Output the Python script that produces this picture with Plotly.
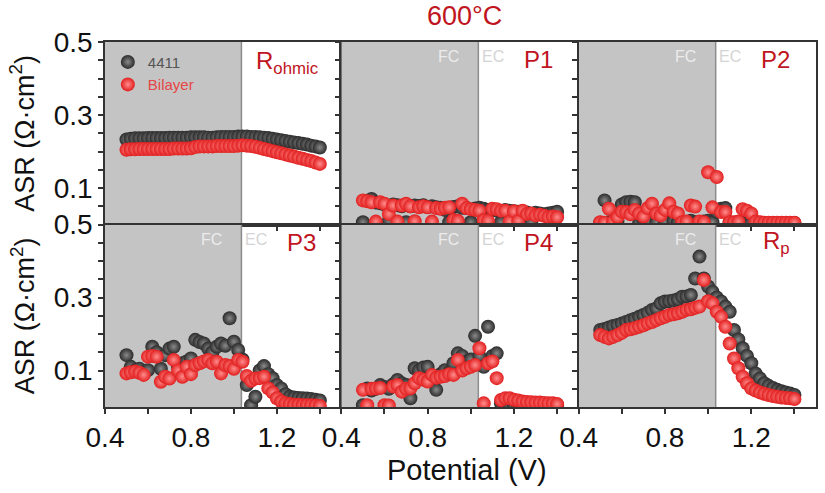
import plotly.graph_objects as go

potential = [0.50, 0.52, 0.54, 0.56, 0.58, 0.60, 0.62, 0.64, 0.66, 0.68,
             0.70, 0.72, 0.74, 0.76, 0.78, 0.80, 0.82, 0.84, 0.86, 0.88,
             0.90, 0.92, 0.94, 0.96, 0.98, 1.00, 1.02, 1.04, 1.06, 1.08,
             1.10, 1.12, 1.14, 1.16, 1.18, 1.20, 1.22, 1.24, 1.26, 1.28,
             1.30, 1.32, 1.34, 1.36, 1.38, 1.40]

r_ohmic_4411 = [0.233, 0.235, 0.236, 0.236, 0.236, 0.237, 0.237, 0.237, 0.237, 0.237,
                0.238, 0.238, 0.238, 0.238, 0.238, 0.239, 0.239, 0.239, 0.239, 0.238,
                0.238, 0.239, 0.240, 0.240, 0.240, 0.240, 0.241, 0.241, 0.241, 0.240,
                0.240, 0.239, 0.238, 0.237, 0.235, 0.233, 0.231, 0.229, 0.227, 0.225,
                0.223, 0.221, 0.219, 0.216, 0.214, 0.211]
r_ohmic_bilayer = [0.205, 0.206, 0.206, 0.207, 0.207, 0.207, 0.207, 0.207, 0.207, 0.207,
                   0.207, 0.208, 0.208, 0.208, 0.208, 0.209, 0.212, 0.214, 0.214, 0.214,
                   0.214, 0.215, 0.215, 0.215, 0.215, 0.215, 0.216, 0.217, 0.216, 0.215,
                   0.213, 0.210, 0.207, 0.204, 0.201, 0.198, 0.195, 0.192, 0.189, 0.186,
                   0.183, 0.180, 0.177, 0.174, 0.170, 0.166]

p1_4411 = [0.006, 0.065, 0.070, 0.060, 0.058, 0.055, 0.010, 0.055, 0.053, 0.050,
           0.006, 0.050, 0.052, 0.051, 0.053, 0.048, 0.050, 0.047, 0.046, 0.040,
           0.006, 0.048, 0.050, 0.046, 0.045, 0.006, 0.044, 0.046, 0.043, 0.040,
           0.040, 0.038, 0.006, 0.040, 0.038, 0.036, 0.035, 0.034, 0.033, 0.006,
           0.032, 0.030, 0.028, 0.030, 0.032, 0.035]
p1_bilayer = [0.066, 0.064, 0.061, 0.008, 0.061, 0.057, 0.029, 0.052, 0.008, 0.052,
              0.057, 0.050, 0.009, 0.047, 0.050, 0.047, 0.008, 0.045, 0.043, 0.046,
              0.047, 0.012, 0.010, 0.057, 0.045, 0.042, 0.040, 0.038, 0.012, 0.010,
              0.043, 0.042, 0.038, 0.038, 0.008, 0.036, 0.010, 0.038, 0.029, 0.030,
              0.025, 0.027, 0.024, 0.020, 0.022, 0.020]

p2_4411 = [0.005, 0.066, 0.006, 0.008, 0.010, 0.055, 0.061, 0.062, 0.061, 0.004,
           0.015, 0.010, 0.040, 0.005, 0.030, 0.008, 0.045, 0.010, 0.006, 0.004,
           0.005, 0.010, 0.006, 0.005, 0.008, 0.010, 0.006, 0.035, 0.043, 0.045,
           0.006, 0.005, 0.004, 0.004, 0.004, 0.004, 0.004, 0.004, 0.004, 0.004,
           0.004, 0.004, 0.004, 0.004, 0.004, 0.004]
p2_bilayer = [0.006, 0.005, 0.043, 0.008, 0.020, 0.035, 0.034, 0.028, 0.040, 0.030,
              0.022, 0.045, 0.057, 0.030, 0.025, 0.040, 0.058, 0.035, 0.030, 0.006,
              0.008, 0.052, 0.049, 0.008, 0.006, 0.143, 0.047, 0.130, 0.034, 0.034,
              0.006, 0.006, 0.008, 0.042, 0.038, 0.030, 0.008, 0.006, 0.005, 0.005,
              0.005, 0.005, 0.005, 0.005, 0.005, 0.005]

p3_4411 = [0.142, 0.110, 0.100, 0.105, 0.095, 0.101, 0.165, 0.150, 0.105, 0.142,
           0.160, 0.165, 0.110, 0.120, 0.125, 0.133, 0.184, 0.178, 0.174, 0.160,
           0.150, 0.165, 0.174, 0.168, 0.243, 0.179, 0.156, 0.130, 0.060, 0.005,
           0.028, 0.100, 0.112, 0.090, 0.079, 0.060, 0.051, 0.035, 0.028, 0.026,
           0.025, 0.024, 0.023, 0.022, 0.020, 0.018]
p3_bilayer = [0.092, 0.095, 0.097, 0.094, 0.088, 0.138, 0.140, 0.138, 0.069, 0.083,
              0.078, 0.129, 0.100, 0.083, 0.110, 0.090, 0.115, 0.120, 0.125, 0.129,
              0.120, 0.124, 0.092, 0.115, 0.112, 0.105, 0.129, 0.124, 0.085, 0.072,
              0.078, 0.079, 0.083, 0.051, 0.040, 0.024, 0.015, 0.010, 0.008, 0.006,
              0.006, 0.005, 0.005, 0.005, 0.004, 0.003]

p4_4411 = [0.005, 0.051, 0.045, 0.050, 0.060, 0.055, 0.050, 0.062, 0.074, 0.065,
           0.060, 0.024, 0.106, 0.100, 0.108, 0.110, 0.070, 0.047, 0.090, 0.101,
           0.095, 0.120, 0.147, 0.140, 0.125, 0.130, 0.195, 0.140, 0.110, 0.220,
           0.140, 0.147, 0.010, 0.008, 0.005, 0.005, 0.005, 0.005, 0.005, 0.005,
           0.005, 0.005, 0.005, 0.005, 0.005, 0.005]
p4_bilayer = [0.047, 0.005, 0.050, 0.051, 0.052, 0.005, 0.004, 0.056, 0.060, 0.042,
              0.050, 0.051, 0.065, 0.079, 0.075, 0.070, 0.088, 0.080, 0.083, 0.085,
              0.090, 0.088, 0.129, 0.100, 0.106, 0.110, 0.115, 0.161, 0.010, 0.120,
              0.125, 0.079, 0.019, 0.024, 0.024, 0.020, 0.018, 0.015, 0.014, 0.013,
              0.012, 0.012, 0.011, 0.010, 0.010, 0.008]

rp_4411 = [0.211, 0.214, 0.218, 0.222, 0.225, 0.229, 0.233, 0.238, 0.242, 0.247,
           0.252, 0.258, 0.266, 0.270, 0.284, 0.289, 0.290, 0.292, 0.295, 0.302,
           0.303, 0.307, 0.352, 0.412, 0.352, 0.330, 0.316, 0.300, 0.289, 0.275,
           0.261, 0.211, 0.185, 0.161, 0.140, 0.120, 0.092, 0.078, 0.065, 0.058,
           0.052, 0.047, 0.043, 0.040, 0.037, 0.033]
rp_bilayer = [0.197, 0.192, 0.188, 0.192, 0.197, 0.203, 0.211, 0.213, 0.216, 0.220,
              0.224, 0.229, 0.233, 0.238, 0.243, 0.247, 0.252, 0.254, 0.257, 0.261,
              0.266, 0.268, 0.272, 0.275, 0.348, 0.290, 0.284, 0.261, 0.247, 0.220,
              0.174, 0.133, 0.106, 0.083, 0.065, 0.051, 0.045, 0.040, 0.036, 0.033,
              0.030, 0.028, 0.026, 0.025, 0.024, 0.022]

panel_labels = ["R<sub>ohmic</sub>", "P1", "P2", "P3", "P4", "R<sub>p</sub>"]
series_4411 = [r_ohmic_4411, p1_4411, p2_4411, p3_4411, p4_4411, rp_4411]
series_bilayer = [r_ohmic_bilayer, p1_bilayer, p2_bilayer, p3_bilayer, p4_bilayer, rp_bilayer]

x_ticks = [0.4, 0.6, 0.8, 1.0, 1.2, 1.4]
x_ticktext = ["0.4", "", "0.8", "", "1.2", ""]
y_ticks = [0.05, 0.1, 0.15, 0.2, 0.25, 0.3, 0.35, 0.4, 0.45, 0.5]
y_ticktext = ["", "0.1", "", "", "", "0.3", "", "", "", "0.5"]
fc_ec_boundary = 1.035

FONT = "Liberation Sans, Arial, sans-serif"
DARK_RED = "#c0141e"
AX = "#333333"

fig = go.Figure()

x_domains = [[0.0, 237 / 713], [237 / 713, 475 / 713], [475 / 713, 1.0]]
y_domains = [[0.5, 1.0], [0.0, 0.5]]

annotations = []
shapes = []

for k in range(6):
    row, col = divmod(k, 3)
    sfx = "" if k == 0 else str(k + 1)
    xref, yref = "x" + sfx, "y" + sfx

    fig.add_trace(go.Scatter(
        x=potential, y=series_4411[k], mode="markers", xaxis=xref, yaxis=yref,
        name="<span style='color:#555555'>4411</span>", showlegend=(k == 0), legendgroup="a",
        marker=dict(size=14, color="#2b2b2b", gradient=dict(type="radial", color="#8a8a8a"),
                    line=dict(width=0)),
    ))
    fig.add_trace(go.Scatter(
        x=potential, y=series_bilayer[k], mode="markers", xaxis=xref, yaxis=yref,
        name="<span style='color:#e64646'>Bilayer</span>", showlegend=(k == 0), legendgroup="b",
        marker=dict(size=14, color="#e21e1e", gradient=dict(type="radial", color="#ff8c8c"),
                    line=dict(width=0)),
    ))

    fig.layout["xaxis" + sfx] = dict(
        domain=x_domains[col], anchor=yref, range=[0.4, 1.5],
        tickmode="array", tickvals=x_ticks, ticktext=x_ticktext,
        showticklabels=(row == 1), ticks="outside", ticklen=5, tickwidth=1.5, tickcolor=AX,
        showline=True, mirror=True, linecolor=AX, linewidth=1.5,
        showgrid=False, zeroline=False,
        tickfont=dict(family=FONT, size=28, color="#111"),
    )
    fig.layout["yaxis" + sfx] = dict(
        domain=y_domains[row], anchor=xref, range=[0, 0.5],
        tickmode="array", tickvals=y_ticks, ticktext=y_ticktext,
        showticklabels=(col == 0), ticks="outside", ticklen=5, tickwidth=1.5, tickcolor=AX,
        showline=True, mirror=True, linecolor=AX, linewidth=1.5,
        showgrid=False, zeroline=False,
        tickfont=dict(family=FONT, size=28, color="#111"),
    )

    shapes.append(dict(type="rect", xref=xref, yref=yref, x0=0.4, x1=fc_ec_boundary, y0=0, y1=0.5,
                       fillcolor="#c4c4c4", line=dict(width=0), layer="below"))
    shapes.append(dict(type="line", xref=xref, yref=yref, x0=fc_ec_boundary, x1=fc_ec_boundary,
                       y0=0, y1=0.5, line=dict(color="#8c8c8c", width=1.5), layer="below"))

    annotations.append(dict(text=panel_labels[k], xref=xref, yref=yref, x=1.40 if k == 0 else 1.39,
                            y=0.445 if k == 0 else 0.452, xanchor="right", yanchor="middle",
                            showarrow=False, font=dict(family=FONT, size=24, color=DARK_RED)))
    if k != 0:
        annotations.append(dict(text="FC", xref=xref, yref=yref, x=0.955, y=0.46,
                                xanchor="right", yanchor="middle", showarrow=False,
                                font=dict(family=FONT, size=16, color="#ececec")))
        annotations.append(dict(text="EC", xref=xref, yref=yref, x=1.042, y=0.46,
                                xanchor="left", yanchor="middle", showarrow=False,
                                font=dict(family=FONT, size=16, color="#d4d4d4")))

annotations.append(dict(text="600°C", xref="paper", yref="paper", x=0.506, y=1.072,
                        xanchor="center", yanchor="middle", showarrow=False,
                        font=dict(family=FONT, size=27, color=DARK_RED)))
annotations.append(dict(text="Potential (V)", xref="paper", yref="paper", x=0.509, y=-0.172,
                        xanchor="center", yanchor="middle", showarrow=False,
                        font=dict(family=FONT, size=29, color="#111")))
for yc in (0.75, 0.25):
    annotations.append(dict(text="ASR (Ω·cm<sup>2</sup>)", xref="paper", yref="paper",
                            x=-0.116, y=yc, xanchor="center", yanchor="middle", textangle=-90,
                            showarrow=False, font=dict(family=FONT, size=27, color="#111")))

fig.update_layout(
    width=825, height=493,
    margin=dict(l=105, r=7, t=42, b=86),
    paper_bgcolor="white", plot_bgcolor="white",
    font=dict(family=FONT),
    shapes=shapes, annotations=annotations,
    showlegend=True,
    legend=dict(x=0.004, y=0.99, xanchor="left", yanchor="top", bgcolor="rgba(0,0,0,0)",
                font=dict(family=FONT, size=15), tracegroupgap=0, itemclick=False),
)

fig.write_html("out.html")
